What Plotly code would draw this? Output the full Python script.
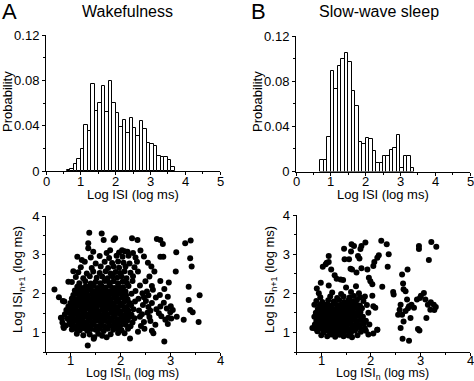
import plotly.graph_objects as go

# ---------------- data ----------------
bin_width = 0.1
wake_bin_left = [0.6, 0.7, 0.8, 0.9, 1.0, 1.1, 1.2, 1.3, 1.4, 1.5, 1.6, 1.7, 1.8, 1.9, 2.0,
                 2.1, 2.2, 2.3, 2.4, 2.5, 2.6, 2.7, 2.8, 2.9, 3.0, 3.1, 3.2, 3.3, 3.4, 3.5, 3.6]
wake_prob = [0.001, 0.0015, 0.006, 0.0106, 0.019, 0.041, 0.035, 0.077, 0.053, 0.060, 0.075,
             0.0525, 0.079, 0.060, 0.051, 0.039, 0.045, 0.0335, 0.047, 0.038, 0.0305, 0.044,
             0.037, 0.0245, 0.024, 0.022, 0.0135, 0.0127, 0.012, 0.0097, 0.0038]

sws_bin_left = [0.7, 0.8, 0.9, 1.0, 1.1, 1.2, 1.3, 1.4, 1.5, 1.6, 1.7, 1.8, 1.9, 2.0, 2.1,
                2.2, 2.3, 2.4, 2.5, 2.6, 2.7, 2.8, 2.9, 3.0, 3.1, 3.2, 3.3]
sws_prob = [0.010, 0.010, 0.031, 0.089, 0.073, 0.093, 0.100, 0.105, 0.097, 0.071, 0.058,
            0.026, 0.024, 0.030, 0.029, 0.018, 0.0075, 0.0075, 0.014, 0.014, 0.019, 0.021,
            0.032, 0.003, 0.014, 0.014, 0.003]

hist_xticks = [0, 1, 2, 3, 4, 5]
hist_yticks = [0, 0.04, 0.08, 0.12]
hist_yticktext = ["0", "0.04", "0.08", "0.12"]
scatter_ticks = [1, 2, 3, 4]

# (Log ISI_n, Log ISI_n+1) pairs, wakefulness
wake_pairs = [
    (1.12, 0.97), (1.25, 0.93), (1.38, 0.95), (1.47, 0.88), (1.55, 0.97), (1.63, 0.92), (1.72, 0.88),
    (1.80, 0.96), (1.95, 0.99), (2.08, 0.98), (2.35, 1.02),
    (0.86, 1.12), (1.02, 1.08), (1.09, 1.10), (1.18, 1.06), (1.27, 1.11), (1.33, 1.05), (1.41, 1.09),
    (1.50, 1.07), (1.58, 1.10), (1.66, 1.04), (1.74, 1.10), (1.85, 1.07), (1.93, 1.11), (2.02, 1.06),
    (2.15, 1.10), (2.48, 1.10), (2.63, 1.05),
    (0.90, 1.18), (1.00, 1.20), (1.06, 1.15), (1.14, 1.19), (1.20, 1.16), (1.29, 1.20), (1.36, 1.17),
    (1.44, 1.21), (1.52, 1.16), (1.60, 1.19), (1.68, 1.15), (1.77, 1.20), (1.84, 1.16), (1.90, 1.21),
    (1.99, 1.17), (2.10, 1.20), (2.20, 1.16), (2.41, 1.17), (2.70, 1.20), (2.95, 1.22),
    (0.83, 1.26), (0.97, 1.30), (1.04, 1.27), (1.11, 1.30), (1.17, 1.25), (1.24, 1.29), (1.31, 1.26),
    (1.38, 1.30), (1.46, 1.27), (1.53, 1.31), (1.61, 1.26), (1.69, 1.30), (1.76, 1.27), (1.82, 1.31),
    (1.88, 1.25), (1.96, 1.29), (2.05, 1.27), (2.14, 1.31), (2.24, 1.26), (2.47, 1.27),
    (2.60, 1.30), (2.90, 1.33), (3.02, 1.36),
    (0.80, 1.38), (0.93, 1.36), (1.01, 1.40), (1.08, 1.35), (1.15, 1.39), (1.22, 1.36), (1.28, 1.41),
    (1.35, 1.37), (1.42, 1.40), (1.49, 1.35), (1.56, 1.39), (1.63, 1.36), (1.71, 1.41), (1.79, 1.37),
    (1.86, 1.40), (1.93, 1.35), (2.01, 1.39), (2.09, 1.36), (2.18, 1.40), (2.28, 1.37), (2.39, 1.41),
    (2.58, 1.40), (2.82, 1.42), (2.96, 1.38),
    (0.88, 1.47), (0.98, 1.50), (1.05, 1.46), (1.12, 1.50), (1.19, 1.45), (1.26, 1.49), (1.33, 1.46),
    (1.40, 1.51), (1.47, 1.46), (1.54, 1.50), (1.60, 1.45), (1.67, 1.49), (1.74, 1.46), (1.81, 1.51),
    (1.89, 1.47), (1.97, 1.50), (2.04, 1.45), (2.12, 1.49), (2.22, 1.46), (2.43, 1.47),
    (2.54, 1.51), (2.77, 1.50), (3.00, 1.52),
    (0.91, 1.58), (1.00, 1.56), (1.07, 1.60), (1.14, 1.55), (1.21, 1.59), (1.28, 1.56), (1.35, 1.61),
    (1.42, 1.56), (1.49, 1.60), (1.56, 1.55), (1.63, 1.59), (1.70, 1.56), (1.77, 1.61), (1.84, 1.56),
    (1.91, 1.60), (1.99, 1.55), (2.07, 1.59), (2.16, 1.56), (2.26, 1.60), (2.37, 1.57),
    (2.60, 1.56), (2.72, 1.60), (2.93, 1.62), (3.05, 1.58),
    (0.95, 1.67), (1.03, 1.70), (1.10, 1.65), (1.17, 1.69), (1.24, 1.66), (1.31, 1.70), (1.38, 1.65),
    (1.45, 1.69), (1.52, 1.66), (1.59, 1.71), (1.66, 1.66), (1.73, 1.70), (1.80, 1.65), (1.87, 1.69),
    (1.95, 1.66), (2.03, 1.70), (2.12, 1.66), (2.21, 1.70), (2.45, 1.71), (2.56, 1.66),
    (2.80, 1.67), (3.01, 1.68),
    (0.87, 1.80), (0.99, 1.76), (1.06, 1.80), (1.13, 1.75), (1.20, 1.79), (1.27, 1.76), (1.34, 1.80),
    (1.41, 1.75), (1.48, 1.79), (1.55, 1.76), (1.62, 1.80), (1.69, 1.75), (1.76, 1.79), (1.83, 1.76),
    (1.91, 1.80), (1.99, 1.76), (2.08, 1.80), (2.18, 1.76), (2.29, 1.80), (2.51, 1.81),
    (2.63, 1.76), (2.87, 1.77),
    (1.02, 1.88), (1.09, 1.85), (1.16, 1.89), (1.23, 1.86), (1.30, 1.90), (1.37, 1.85), (1.44, 1.89),
    (1.51, 1.86), (1.58, 1.90), (1.65, 1.85), (1.72, 1.89), (1.79, 1.86), (1.87, 1.90), (1.95, 1.86),
    (2.04, 1.90), (2.14, 1.86), (2.36, 1.87), (2.47, 1.91), (2.71, 1.90),
    (2.95, 1.92),
    (1.05, 1.97), (1.12, 2.00), (1.20, 1.96), (1.27, 2.00), (1.34, 1.95), (1.42, 1.99), (1.49, 1.96),
    (1.56, 2.00), (1.63, 1.95), (1.70, 1.99), (1.77, 1.96), (1.85, 2.00), (1.93, 1.96), (2.02, 2.00),
    (2.11, 1.96), (2.22, 2.00), (2.44, 2.01), (2.56, 1.96), (2.79, 1.97),
    (1.08, 2.08), (1.16, 2.05), (1.24, 2.09), (1.31, 2.06), (1.39, 2.10), (1.46, 2.05), (1.53, 2.09),
    (1.61, 2.06), (1.68, 2.10), (1.76, 2.05), (1.84, 2.09), (1.92, 2.06), (2.00, 2.10), (2.10, 2.06),
    (2.30, 2.07), (2.53, 2.06), (2.65, 2.10), (2.88, 2.12),
    (1.13, 2.18), (1.22, 2.15), (1.30, 2.19), (1.38, 2.16), (1.46, 2.20), (1.54, 2.15), (1.62, 2.19),
    (1.70, 2.16), (1.79, 2.20), (1.87, 2.15), (1.95, 2.19), (2.05, 2.16), (2.16, 2.20),
    (2.39, 2.21), (2.63, 2.20),
    (1.02, 2.30), (1.17, 2.27), (1.29, 2.32), (1.40, 2.26), (1.50, 2.31), (1.59, 2.27), (1.68, 2.33),
    (1.77, 2.28), (1.86, 2.32), (1.95, 2.26), (2.04, 2.31), (2.13, 2.27), (2.24, 2.33),
    (2.50, 2.32), (2.80, 2.33),
    (1.10, 2.43), (1.25, 2.40), (1.38, 2.45), (1.52, 2.41), (1.63, 2.44), (1.74, 2.40), (1.84, 2.45),
    (1.93, 2.41), (2.02, 2.44), (2.12, 2.40), (2.25, 2.45), (2.58, 2.44),
    (1.15, 2.55), (1.32, 2.52), (1.45, 2.57), (1.58, 2.53), (1.70, 2.58), (1.80, 2.52), (1.90, 2.56),
    (1.99, 2.53), (2.08, 2.58), (2.20, 2.54), (2.35, 2.57), (2.68, 2.57),
    (1.20, 2.68), (1.42, 2.66), (1.60, 2.70), (1.75, 2.66), (1.86, 2.70), (1.97, 2.67), (2.10, 2.70),
    (2.28, 2.68), (2.62, 2.70),
    (1.28, 2.82), (1.50, 2.78), (1.68, 2.82), (1.83, 2.79), (1.95, 2.83), (2.06, 2.80), (2.18, 2.78),
    (2.33, 2.82), (2.55, 2.80),
    (1.40, 2.93), (1.58, 2.97), (1.77, 2.92), (1.92, 2.98), (2.04, 2.95), (2.16, 2.98), (2.30, 2.93),
    (2.47, 2.96),
    (1.45, 3.08), (1.72, 3.05), (1.97, 3.06), (2.08, 3.09), (2.25, 3.05),
    (0.67, 2.11), (0.76, 1.91), (0.84, 1.81), (0.82, 1.37), (0.85, 1.15), (0.95, 2.31), (1.05, 2.58),
    (1.13, 2.95), (1.22, 2.87), (1.35, 3.17), (1.37, 3.57), (1.35, 3.30), (1.62, 3.55), (1.66, 3.38),
    (1.86, 3.38), (1.89, 3.43), (1.79, 3.12), (2.03, 3.12), (2.14, 3.08), (2.23, 3.43), (2.34, 3.38),
    (2.40, 3.11), (2.73, 3.41), (2.80, 3.38), (2.85, 3.28), (2.80, 2.95), (2.86, 2.95), (3.12, 3.07),
    (3.30, 3.30), (3.41, 3.37), (3.40, 2.91), (3.43, 2.70), (3.37, 2.18), (3.37, 1.84), (3.40, 1.58),
    (3.45, 1.52), (3.59, 1.96), (3.57, 1.27), (3.27, 1.33), (3.13, 1.41), (3.11, 2.57), (2.97, 2.29),
    (2.88, 0.77), (1.34, 0.67), (1.46, 0.84), (2.19, 0.85), (2.66, 0.98),
]

# (Log ISI_n, Log ISI_n+1) pairs, slow-wave sleep
sws_pairs = [
    (1.00, 0.93), (1.12, 0.90), (1.20, 0.95), (1.28, 0.89), (1.37, 0.94), (1.45, 0.90), (1.55, 0.92),
    (1.62, 0.88), (1.73, 0.93), (1.95, 0.95), (2.05, 0.97),
    (0.92, 1.03), (1.04, 1.00), (1.10, 1.05), (1.17, 1.01), (1.24, 1.04), (1.31, 1.00), (1.39, 1.05),
    (1.46, 1.01), (1.52, 1.04), (1.60, 1.00), (1.68, 1.05), (1.80, 1.02), (1.90, 1.04),
    (0.82, 1.11), (0.88, 1.10), (0.95, 1.12), (1.02, 1.09), (1.08, 1.13), (1.15, 1.10), (1.21, 1.12),
    (1.27, 1.08), (1.34, 1.12), (1.41, 1.10), (1.48, 1.13), (1.55, 1.09), (1.62, 1.12), (1.70, 1.10),
    (1.78, 1.13), (1.88, 1.10), (2.13, 1.07),
    (0.87, 1.20), (0.96, 1.22), (1.03, 1.18), (1.09, 1.21), (1.15, 1.19), (1.20, 1.23), (1.26, 1.18),
    (1.32, 1.22), (1.38, 1.19), (1.44, 1.23), (1.50, 1.18), (1.57, 1.22), (1.63, 1.19), (1.70, 1.23),
    (1.78, 1.19), (1.86, 1.22), (1.97, 1.20),
    (0.90, 1.30), (0.99, 1.28), (1.05, 1.32), (1.11, 1.29), (1.17, 1.33), (1.23, 1.28), (1.29, 1.32),
    (1.35, 1.29), (1.41, 1.33), (1.47, 1.28), (1.53, 1.32), (1.59, 1.29), (1.65, 1.33), (1.72, 1.28),
    (1.80, 1.32), (1.90, 1.30),
    (0.86, 1.40), (0.95, 1.38), (1.02, 1.42), (1.08, 1.39), (1.14, 1.43), (1.20, 1.38), (1.26, 1.42),
    (1.32, 1.39), (1.38, 1.43), (1.44, 1.38), (1.50, 1.42), (1.56, 1.39), (1.62, 1.43), (1.68, 1.38),
    (1.75, 1.42), (1.84, 1.40),
    (0.89, 1.50), (0.98, 1.48), (1.04, 1.52), (1.10, 1.49), (1.16, 1.53), (1.22, 1.48), (1.28, 1.52),
    (1.34, 1.49), (1.40, 1.53), (1.46, 1.48), (1.52, 1.52), (1.58, 1.49), (1.64, 1.53), (1.71, 1.48),
    (1.79, 1.52), (1.95, 1.50),
    (0.93, 1.60), (1.00, 1.58), (1.07, 1.62), (1.13, 1.59), (1.19, 1.63), (1.25, 1.58), (1.31, 1.62),
    (1.37, 1.59), (1.43, 1.63), (1.49, 1.58), (1.55, 1.62), (1.61, 1.59), (1.67, 1.63), (1.74, 1.58),
    (1.82, 1.62),
    (0.86, 1.71), (0.97, 1.70), (1.05, 1.68), (1.12, 1.72), (1.20, 1.69), (1.28, 1.73), (1.35, 1.68),
    (1.42, 1.72), (1.50, 1.69), (1.57, 1.73), (1.63, 1.68), (1.70, 1.72), (1.78, 1.69), (1.92, 1.70),
    (0.90, 1.80), (1.02, 1.78), (1.14, 1.82), (1.25, 1.79), (1.36, 1.83), (1.46, 1.78), (1.55, 1.82),
    (1.63, 1.79), (1.72, 1.83), (1.85, 1.80),
    (0.98, 1.90), (1.18, 1.92), (1.32, 1.88), (1.45, 1.92), (1.57, 1.89), (1.66, 1.93), (1.78, 1.90),
    (1.88, 1.92),
    (0.95, 2.00), (1.22, 2.02), (1.40, 1.98), (1.60, 2.03), (1.76, 2.00),
    (0.91, 2.12), (1.15, 2.20), (1.50, 2.15), (1.70, 2.18),
    (0.99, 2.27), (1.03, 2.68), (1.09, 2.74), (1.11, 2.78), (1.15, 2.80), (1.20, 2.61), (1.15, 2.95),
    (1.27, 2.46), (1.31, 2.37), (1.39, 2.35), (1.44, 2.34), (1.46, 3.14), (1.47, 2.87), (1.56, 2.87),
    (1.59, 2.63), (1.62, 2.61), (1.60, 3.07), (1.61, 3.25), (1.66, 3.21), (1.74, 2.95), (1.77, 2.89),
    (1.79, 3.13), (1.81, 3.21), (1.89, 3.30), (1.71, 2.53), (1.81, 2.64), (1.93, 2.61), (2.05, 2.70),
    (2.07, 2.80), (2.13, 2.91), (2.16, 2.97), (2.21, 3.34), (2.32, 3.25), (2.36, 3.00), (2.34, 2.68),
    (1.96, 2.40), (1.99, 2.31), (2.03, 2.23), (2.23, 2.17), (2.03, 1.94), (2.05, 1.67), (2.09, 1.63),
    (2.13, 1.07), (2.45, 2.03), (2.46, 1.97), (2.63, 2.48), (2.74, 2.61), (2.65, 2.25), (2.66, 2.10),
    (2.70, 2.05), (2.73, 1.84), (2.60, 1.71), (2.58, 1.58), (2.63, 1.45), (2.66, 1.28), (2.60, 1.11),
    (2.64, 0.84), (2.77, 0.79), (2.80, 1.37), (2.77, 1.67), (2.82, 1.71), (2.87, 1.63), (2.93, 1.84),
    (2.99, 1.88), (3.01, 1.94), (2.95, 1.09), (2.98, 1.05), (2.97, 3.21), (2.97, 3.13), (3.22, 3.31),
    (3.32, 3.19), (3.17, 2.85), (3.07, 2.01), (3.10, 1.84), (3.15, 1.71), (3.21, 1.77), (3.27, 1.71),
    (3.20, 1.58), (3.28, 1.57), (3.31, 1.65), (3.12, 1.37), (2.70, 1.55), (2.75, 1.62), (2.55, 1.45),
]

# ---------------- figure ----------------
FONT = "Liberation Sans, Arial, Helvetica, sans-serif"
fig = go.Figure()

wake_centers = [b + bin_width / 2 for b in wake_bin_left]
sws_centers = [b + bin_width / 2 for b in sws_bin_left]
bar_style = dict(marker=dict(color="white", line=dict(color="black", width=1)), width=bin_width,
                 showlegend=False, hoverinfo="skip")
fig.add_trace(go.Bar(x=wake_centers, y=wake_prob, xaxis="x", yaxis="y", **bar_style))
fig.add_trace(go.Bar(x=sws_centers, y=sws_prob, xaxis="x2", yaxis="y2", **bar_style))

dot = dict(color="black", size=6)
fig.add_trace(go.Scatter(x=[p[0] for p in wake_pairs], y=[p[1] for p in wake_pairs], mode="markers",
                         marker=dot, xaxis="x3", yaxis="y3", showlegend=False, cliponaxis=False))
fig.add_trace(go.Scatter(x=[p[0] for p in sws_pairs], y=[p[1] for p in sws_pairs], mode="markers",
                         marker=dot, xaxis="x4", yaxis="y4", showlegend=False, cliponaxis=False))

W, H = 474, 381


def dom_x(a, b):
    return [a / W, b / W]


def dom_y(top_px, bottom_px):
    return [1 - bottom_px / H, 1 - top_px / H]


common = dict(showline=True, linecolor="black", linewidth=1, ticks="outside", ticklen=3,
              tickcolor="black", tickwidth=1, showgrid=False, zeroline=False, automargin=False,
              tickfont=dict(family=FONT, size=13, color="black"), fixedrange=True)

minor_common = dict(ticks="outside", ticklen=2, tickcolor="black")
hx = dict(common, range=[0, 5], tickvals=hist_xticks, showticklabels=False,
          minor=dict(minor_common, tickvals=[0.5, 1.5, 2.5, 3.5, 4.5]))
hy = dict(common, range=[0, 0.12], tickvals=hist_yticks, ticktext=hist_yticktext,
          minor=dict(minor_common, tickvals=[0.02, 0.06, 0.10]))
sx = dict(common, range=[0.5, 4], tickvals=scatter_ticks, showticklabels=False,
          minor=dict(minor_common, tickvals=[0.5, 1.5, 2.5, 3.5]))
sy = dict(common, range=[0.5, 4], tickvals=scatter_ticks,
          minor=dict(minor_common, tickvals=[0.5, 1.5, 2.5, 3.5]))

fig.update_layout(
    width=W, height=H, margin=dict(l=0, r=0, t=0, b=0, pad=0, autoexpand=False),
    paper_bgcolor="white", plot_bgcolor="white", bargap=0,
    xaxis=dict(hx, domain=dom_x(46, 220), anchor="y"),
    yaxis=dict(hy, domain=dom_y(35, 171), anchor="x"),
    xaxis2=dict(hx, domain=dom_x(296, 470), anchor="y2"),
    yaxis2=dict(hy, domain=dom_y(36, 171.5), anchor="x2"),
    xaxis3=dict(sx, domain=dom_x(46, 220), anchor="y3"),
    yaxis3=dict(sy, domain=dom_y(216, 352), anchor="x3"),
    xaxis4=dict(sx, domain=dom_x(296.5, 470), anchor="y4"),
    yaxis4=dict(sy, domain=dom_y(215, 352), anchor="x4"),
)


def text(x, y, s, size=13, angle=0):
    fig.add_annotation(x=x / W, y=1 - y / H, xref="paper", yref="paper", text=s, showarrow=False,
                       textangle=angle, font=dict(family=FONT, size=size, color="black"),
                       xanchor="center", yanchor="middle", borderpad=0)


# x tick labels placed at the axis' own tick values (x in data coordinates)
def xtick_labels(xref, ticks, y_px):
    for t in ticks:
        fig.add_annotation(x=t, xref=xref, y=1 - y_px / H, yref="paper", text=str(t),
                           showarrow=False, font=dict(family=FONT, size=13, color="black"),
                           xanchor="center", yanchor="middle", borderpad=0)


xtick_labels("x", hist_xticks, 181.5)
xtick_labels("x2", hist_xticks, 181.5)
xtick_labels("x3", scatter_ticks, 360.5)
xtick_labels("x4", scatter_ticks, 360.5)

text(9, 12, "A", size=22)
text(258, 12, "B", size=22)
text(128, 12, "Wakefulness", size=16)
text(379, 12, "Slow-wave sleep", size=16)
text(133, 194, "Log ISI (log ms)")
text(383, 194, "Log ISI (log ms)")
text(8, 102, "Probability", angle=-90)
text(258, 102, "Probability", angle=-90)
text(132, 373.5, "Log ISI<sub>n</sub> (log ms)", size=12.5)
text(382, 373.5, "Log ISI<sub>n</sub> (log ms)", size=12.5)
text(18, 280, "Log ISI<sub>n+1</sub> (log ms)", angle=-90)
text(270, 280, "Log ISI<sub>n+1</sub> (log ms)", angle=-90)

fig.write_html("out.html", config={"displayModeBar": False},
               post_script="document.body.style.margin='0';document.body.style.overflow='hidden';")
